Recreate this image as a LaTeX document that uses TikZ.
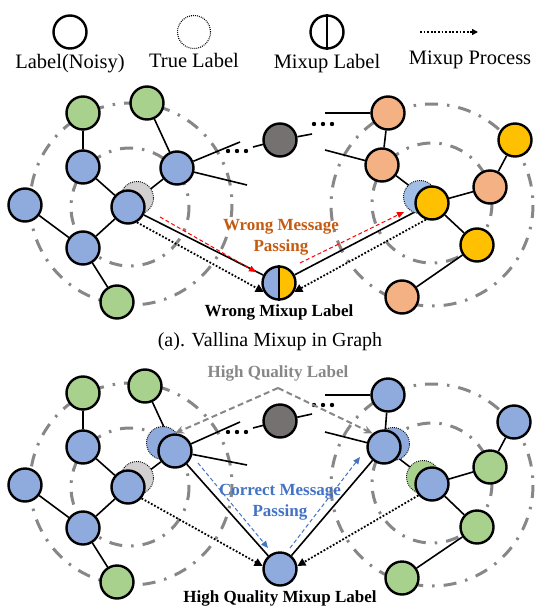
\documentclass[tikz,border=0pt]{standalone}
\usepackage{fontspec}
\setmainfont{Liberation Serif}
\usetikzlibrary{positioning,arrows.meta}

\definecolor{nblue}{RGB}{143,170,220}
\definecolor{ngreen}{RGB}{169,209,142}
\definecolor{npeach}{RGB}{244,177,131}
\definecolor{nyellow}{RGB}{255,192,0}
\definecolor{ngray}{RGB}{118,113,113}
\definecolor{ringgray}{RGB}{135,135,135}
\definecolor{ghostgray}{RGB}{210,208,208}
\definecolor{ghostblue}{RGB}{160,190,230}
\definecolor{txtorange}{RGB}{197,90,17}
\definecolor{txtblue}{RGB}{68,114,196}

\pgfdeclarelayer{bg}
\pgfsetlayers{bg,main}

\tikzset{
  nd/.style={circle,draw,line width=2.4pt,minimum size=33pt,inner sep=0pt},
  ghost/.style={circle,draw,line width=0.9pt,dash pattern=on 0.9pt off 1.1pt,minimum size=33pt,inner sep=0pt},
  halo/.style={draw=ringgray,line width=3pt,dash pattern=on 13pt off 9pt on 2.5pt off 9pt},
  edge/.style={line width=1.6pt},
  mixarrow/.style={line width=1.8pt,dash pattern=on 1.8pt off 1.8pt,-{Triangle[length=8pt,width=8pt]}},
  msgarrow/.style={line width=1pt,dash pattern=on 4pt off 2.5pt,-{Triangle[length=7pt,width=6pt]}},
  hqarrow/.style={draw=ringgray,line width=2pt,dash pattern=on 6pt off 3.5pt,-{Stealth[length=9pt,width=8pt]}},
  lgd/.style={font=\fontsize{20.5}{24}\selectfont,inner sep=1pt},
  lbl/.style={font=\fontsize{17}{21}\selectfont\bfseries,align=center,inner sep=1pt},
}

\begin{document}
\begin{tikzpicture}[x=1pt,y=-1pt]
\useasboundingbox (0,0) rectangle (543,615);

% legend
\node[nd] (ln) at (70,32) {};
\node[lgd,below=3pt of ln] (lnt) {Label(Noisy)};
\node[ghost,line width=1.1pt] (lt) at (194,32) {};
\node[lgd,below=3pt of lt] (ltt) {True Label};
\node[nd] (lm) at (327,32) {};
\draw[line width=2.4pt] (lm.north) -- (lm.south);
\node[lgd,below=3pt of lm] (lmt) {Mixup Label};
\coordinate (la) at (420,32);
\coordinate (lb) at (478,32);
\draw[mixarrow,line width=1.4pt,-{Triangle[length=6pt,width=6pt]}] (la) -- (lb);
\node[lgd] (lpt) at (470,60) {Mixup Process};

% dash-dot neighbourhoods
\begin{pgfonlayer}{bg}
\foreach \dy in {0,280} {
  \draw[halo] (131,204+\dy) circle[radius=101];
  \draw[halo] (130,207+\dy) circle[radius=59];
  \draw[halo] (432,205+\dy) circle[radius=101];
  \draw[halo] (432,203+\dy) circle[radius=60];
}
\end{pgfonlayer}

% ---------- (a) top graph ----------
\node[ghost,fill=ghostgray] (sag) at (137,198) {};
\node[nd,fill=ngreen] (ga) at (83,113) {};
\node[nd,fill=ngreen] (gb) at (147,103) {};
\node[nd,fill=nblue] (ba) at (83,167) {};
\node[nd,fill=nblue] (bb) at (177,168) {};
\node[nd,fill=nblue] (sa) at (128,207) {};
\node[nd,fill=nblue] (bc) at (25,205) {};
\node[nd,fill=nblue] (bd) at (83,248) {};
\node[nd,fill=ngreen] (gc) at (117,302) {};
\node[nd,fill=ngray] (ka) at (280,140) {};

\node[ghost,fill=ghostblue] (tag) at (420,197) {};
\node[nd,fill=npeach] (pa) at (388,113) {};
\node[nd,fill=npeach] (pb) at (382,165) {};
\node[nd,fill=nyellow] (ta) at (432,203) {};
\node[nd,fill=nyellow] (ya) at (515,140) {};
\node[nd,fill=npeach] (pc) at (490,187) {};
\node[nd,fill=nyellow] (yb) at (477,245) {};
\node[nd,fill=npeach] (pd) at (402,297) {};

\node[nd,path picture={
  \fill[nblue] (path picture bounding box.south west) rectangle (path picture bounding box.north);
  \fill[nyellow] (path picture bounding box.south) rectangle (path picture bounding box.north east);}] (ma) at (279,283) {};
\draw[line width=2.4pt] (ma.north) -- (ma.south);

\coordinate (sb1) at (240,142);
\coordinate (sb2) at (247,185);
\coordinate (sk1) at (253,147);
\coordinate (sk2) at (312,134);
\coordinate (sp1) at (325,113);
\coordinate (sp2) at (325,150);
\foreach \x in {228,237,246} \fill (\x,151) circle[radius=2.2];
\foreach \x in {314,323,332} \fill (\x,124) circle[radius=2.2];

\begin{pgfonlayer}{bg}
\draw[edge] (ga) -- (ba) (ba) -- (sa) (sa) -- (bb) (gb) -- (bb) (sa) -- (bd) (bc) -- (bd) (bd) -- (gc);
\draw[edge] (bb) -- (sb1) (bb) -- (sb2) (sk1) -- (ka) (ka) -- (sk2);
\draw[edge] (sp1) -- (pa) (sp2) -- (pb) (pa) -- (pb) (pb) -- (ta) (ta) -- (pc) (pc) -- (ya) (ta) -- (yb) (yb) -- (pd);
\draw[edge] (sa) -- (ma) (ta) -- (ma);
\end{pgfonlayer}

\draw[mixarrow] (sa.-60) -- (ma.-150);
\draw[mixarrow] (ta.-110) -- (ma.-30);
\coordinate (ra1) at (160,217);
\coordinate (ra2) at (256,272);
\coordinate (ra3) at (300,263);
\coordinate (ra4) at (404,212);
\draw[msgarrow,red] (ra1) -- (ra2);
\draw[msgarrow,red] (ra3) -- (ra4);
\node[lbl,txtorange] (wm) at (281,237) {Wrong Message\\Passing};
\node[lbl,below=3pt of ma] (wl) {Wrong Mixup Label};
\node[lgd,font=\fontsize{20}{24}\selectfont] (capa) at (270,342) {(a). Vallina Mixup in Graph};

% ---------- bottom graph ----------
\node[ghost,fill=ghostgray] (sag2) at (137,478) {};
\node[ghost,fill=nblue] (bbg2) at (163,443) {};
\node[nd,fill=ngreen] (ga2) at (83,393) {};
\node[nd,fill=ngreen] (gb2) at (145,386) {};
\node[nd,fill=nblue] (ba2) at (83,447) {};
\node[nd,fill=nblue] (bb2) at (175,451) {};
\node[nd,fill=nblue] (sa2) at (128,487) {};
\node[nd,fill=nblue] (bc2) at (25,485) {};
\node[nd,fill=nblue] (bd2) at (83,528) {};
\node[nd,fill=ngreen] (gc2) at (117,582) {};
\node[nd,fill=ngray] (ka2) at (280,421) {};

\node[ghost,fill=nblue] (qbg2) at (393,444) {};
\node[ghost,fill=ngreen] (tag2) at (423,477) {};
\node[nd,fill=nblue] (pa2) at (388,395) {};
\node[nd,fill=nblue] (pb2) at (384,447) {};
\node[nd,fill=nblue] (ta2) at (432,484) {};
\node[nd,fill=nblue] (ya2) at (514,422) {};
\node[nd,fill=ngreen] (pc2) at (490,467) {};
\node[nd,fill=ngreen] (yb2) at (477,527) {};
\node[nd,fill=ngreen] (pd2) at (402,578) {};

\node[nd,fill=nblue] (mb) at (280,569) {};

\coordinate (sb3) at (240,422);
\coordinate (sb4) at (247,465);
\coordinate (sk3) at (253,428);
\coordinate (sk4) at (312,414);
\coordinate (sp3) at (325,395);
\coordinate (sp4) at (325,432);
\foreach \x in {228,237,246} \fill (\x,432) circle[radius=2.2];
\foreach \x in {314,323,332} \fill (\x,405) circle[radius=2.2];

\begin{pgfonlayer}{bg}
\draw[edge] (ga2) -- (ba2) (ba2) -- (sa2) (sa2) -- (bb2) (gb2) -- (bb2) (sa2) -- (bd2) (bc2) -- (bd2) (bd2) -- (gc2);
\draw[edge] (bb2) -- (sb3) (bb2) -- (sb4) (sk3) -- (ka2) (ka2) -- (sk4);
\draw[edge] (sp3) -- (pa2) (sp4) -- (pb2) (pa2) -- (pb2) (pb2) -- (ta2) (ta2) -- (pc2) (pc2) -- (ya2) (ta2) -- (yb2) (yb2) -- (pd2);
\draw[edge] (bb2) -- (mb) (pb2) -- (mb);
\end{pgfonlayer}

\draw[mixarrow] (sa2.-40) -- (mb.170);
\draw[mixarrow] (ta2.-140) -- (mb.10);
\coordinate (ca1) at (198,463);
\coordinate (ca2) at (268,548);
\coordinate (ca3) at (290,548);
\coordinate (ca4) at (360,457);
\draw[msgarrow,txtblue] (ca1) -- (ca2);
\draw[msgarrow,txtblue] (ca3) -- (ca4);
\coordinate (hqa) at (278,388);
\draw[hqarrow] (hqa) -- (bb2.north);
\draw[hqarrow] (hqa) -- (pb2.130);
\node[lbl,ringgray] (hqt) at (278,373) {High Quality Label};
\node[lbl,txtblue] (cm) at (280,502) {Correct Message\\Passing};
\node[lbl,below=3pt of mb] (hl) {High Quality Mixup Label};
\end{tikzpicture}
\end{document}
